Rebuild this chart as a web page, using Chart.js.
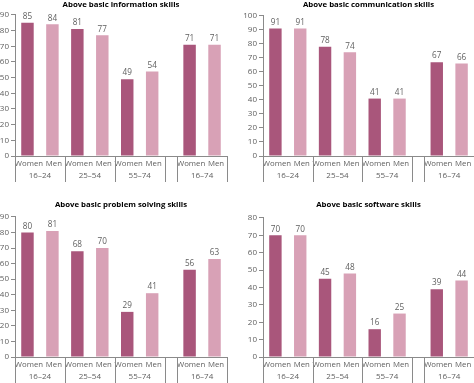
<!DOCTYPE html>
<html><head><meta charset="utf-8">
<script src="https://cdn.jsdelivr.net/npm/chart.js@4/dist/chart.umd.min.js"></script>
<style>
html,body{margin:0;padding:0;background:#fff;width:474px;height:383px;overflow:hidden;position:relative}
.p{position:absolute}
</style></head><body>
<div class="p" style="left:0;top:0;width:237px;height:190px"><canvas id="c1"></canvas></div>
<div class="p" style="left:237px;top:0;width:237px;height:190px"><canvas id="c2"></canvas></div>
<div class="p" style="left:0;top:190px;width:237px;height:193px"><canvas id="c3"></canvas></div>
<div class="p" style="left:237px;top:190px;width:237px;height:193px"><canvas id="c4"></canvas></div>
<script>
const ageGroups = ['16–24', '25–54', '55–74', '16–74'];
const sexLabels = ['Women', 'Men'];

const infoWomen = [85, 81, 49, 71];
const infoMen   = [84, 77, 54, 71];
const commWomen = [91, 78, 41, 67];
const commMen   = [91, 74, 41, 66];
const probWomen = [80, 68, 29, 56];
const probMen   = [81, 70, 41, 63];
const softWomen = [70, 45, 16, 39];
const softMen   = [70, 48, 25, 44];

const panelTitles = ['Above basic information skills', 'Above basic communication skills',
                     'Above basic problem solving skills', 'Above basic software skills'];
const yMaxima = [90, 100, 90, 80];

const WOMEN_COLOR = '#a9567b';
const MEN_COLOR = '#d8a1b6';
const FONT = 'Open Sans';
const TEXT = '#606060';
const AXIS = '#8a8a8a';

// layout position of each bar slot (group index g, sex s); last group separated by a gap
function slot(g, s) { return g * 2 + s + 0.5 + (g === 3 ? 0.5 : 0); }
const barSlots = [];
ageGroups.forEach((_, g) => sexLabels.forEach((_, s) => barSlots.push(slot(g, s))));
const groupCenters = ageGroups.map((_, g) => (slot(g, 0) + slot(g, 1)) / 2);
const separators = [0, 2, 4, 6, 6.5, 8.5];
const X_MAX = 8.5;

const valueLabels = {
  id: 'valueLabels',
  afterDatasetsDraw(chart) {
    const ctx = chart.ctx;
    ctx.save();
    ctx.font = '8.2px "' + FONT + '"';
    ctx.fillStyle = TEXT;
    ctx.textAlign = 'center';
    ctx.textBaseline = 'bottom';
    chart.data.datasets.forEach((ds, i) => {
      chart.getDatasetMeta(i).data.forEach((el, j) => {
        ctx.fillText(String(ds.data[j].y), el.x, el.y - 2);
      });
    });
    ctx.restore();
  }
};
const groupSeparators = {
  id: 'groupSeparators',
  afterDraw(chart) {
    const ctx = chart.ctx, xs = chart.scales.x, b = chart.chartArea.bottom;
    ctx.save();
    ctx.strokeStyle = AXIS;
    ctx.lineWidth = 1;
    separators.forEach(v => {
      const px = Math.round(xs.getPixelForValue(v)) + 0.5;
      ctx.beginPath(); ctx.moveTo(px, b); ctx.lineTo(px, b + 26); ctx.stroke();
    });
    ctx.restore();
  }
};

function makeChart(id, idx, women, men, o) {
  new Chart(document.getElementById(id), {
    type: 'bar',
    data: {
      datasets: [
        { label: 'Women', data: women.map((v, g) => ({ x: slot(g, 0), y: v })),
          backgroundColor: WOMEN_COLOR, barPercentage: 0.5, categoryPercentage: 1, grouped: false },
        { label: 'Men', data: men.map((v, g) => ({ x: slot(g, 1), y: v })),
          backgroundColor: MEN_COLOR, barPercentage: 0.5, categoryPercentage: 1, grouped: false }
      ]
    },
    options: {
      responsive: true, maintainAspectRatio: false, animation: false,
      layout: { padding: { top: o.padTop, right: o.padRight, bottom: o.padBottom, left: 0 } },
      plugins: {
        legend: { display: false }, tooltip: { enabled: false },
        title: { display: true, text: panelTitles[idx], fullSize: false, color: '#000',
                 font: { family: FONT, size: 7.8, weight: 'bold' }, padding: { top: 0.3, bottom: o.titlePad } }
      },
      scales: {
        x: {
          type: 'linear', position: 'bottom', weight: 0, min: 0, max: X_MAX, offset: false,
          grid: { display: false, drawTicks: false, tickLength: 0 }, border: { display: true, color: AXIS, width: 1 },
          afterBuildTicks: s => { s.ticks = barSlots.map(v => ({ value: v })); },
          ticks: { autoSkip: false, maxRotation: 0, minRotation: 0, padding: 3, labelOffset: 1.5, color: TEXT,
                   font: { family: FONT, size: 7.8 }, callback: (v, i) => sexLabels[i % 2] },
          afterFit: s => { s.height = 12; }
        },
        x2: {
          type: 'linear', position: 'bottom', weight: 1, min: 0, max: X_MAX, offset: false,
          grid: { display: false, drawTicks: false, tickLength: 0 }, border: { display: false },
          afterBuildTicks: s => { s.ticks = groupCenters.map(v => ({ value: v })); },
          ticks: { autoSkip: false, maxRotation: 0, minRotation: 0, padding: 3, color: TEXT,
                   font: { family: FONT, size: 8 }, callback: (v, i) => ageGroups[i] },
          afterFit: s => { s.height = 14; }
        },
        y: {
          min: 0, max: yMaxima[idx],
          ticks: { stepSize: 10, padding: 2, color: TEXT, font: { family: FONT, size: 8 } },
          grid: { drawOnChartArea: false, drawTicks: true, tickLength: 4, color: AXIS },
          border: { display: true, color: AXIS, width: 1 },
          afterFit: s => { s.width = o.yWidth; }
        }
      }
    },
    plugins: [valueLabels, groupSeparators]
  });
}

makeChart('c1', 0, infoWomen, infoMen, { padTop: 0, padRight: 10, padBottom: 8, titlePad: 5.3, yWidth: 15 });
makeChart('c2', 1, commWomen, commMen, { padTop: 0, padRight: 0, padBottom: 8, titlePad: 6.3, yWidth: 26 });
makeChart('c3', 2, probWomen, probMen, { padTop: 10, padRight: 10, padBottom: 0, titlePad: 7.3, yWidth: 15 });
makeChart('c4', 3, softWomen, softMen, { padTop: 10, padRight: 0, padBottom: 0, titlePad: 8.3, yWidth: 26 });
</script>
</body></html>
